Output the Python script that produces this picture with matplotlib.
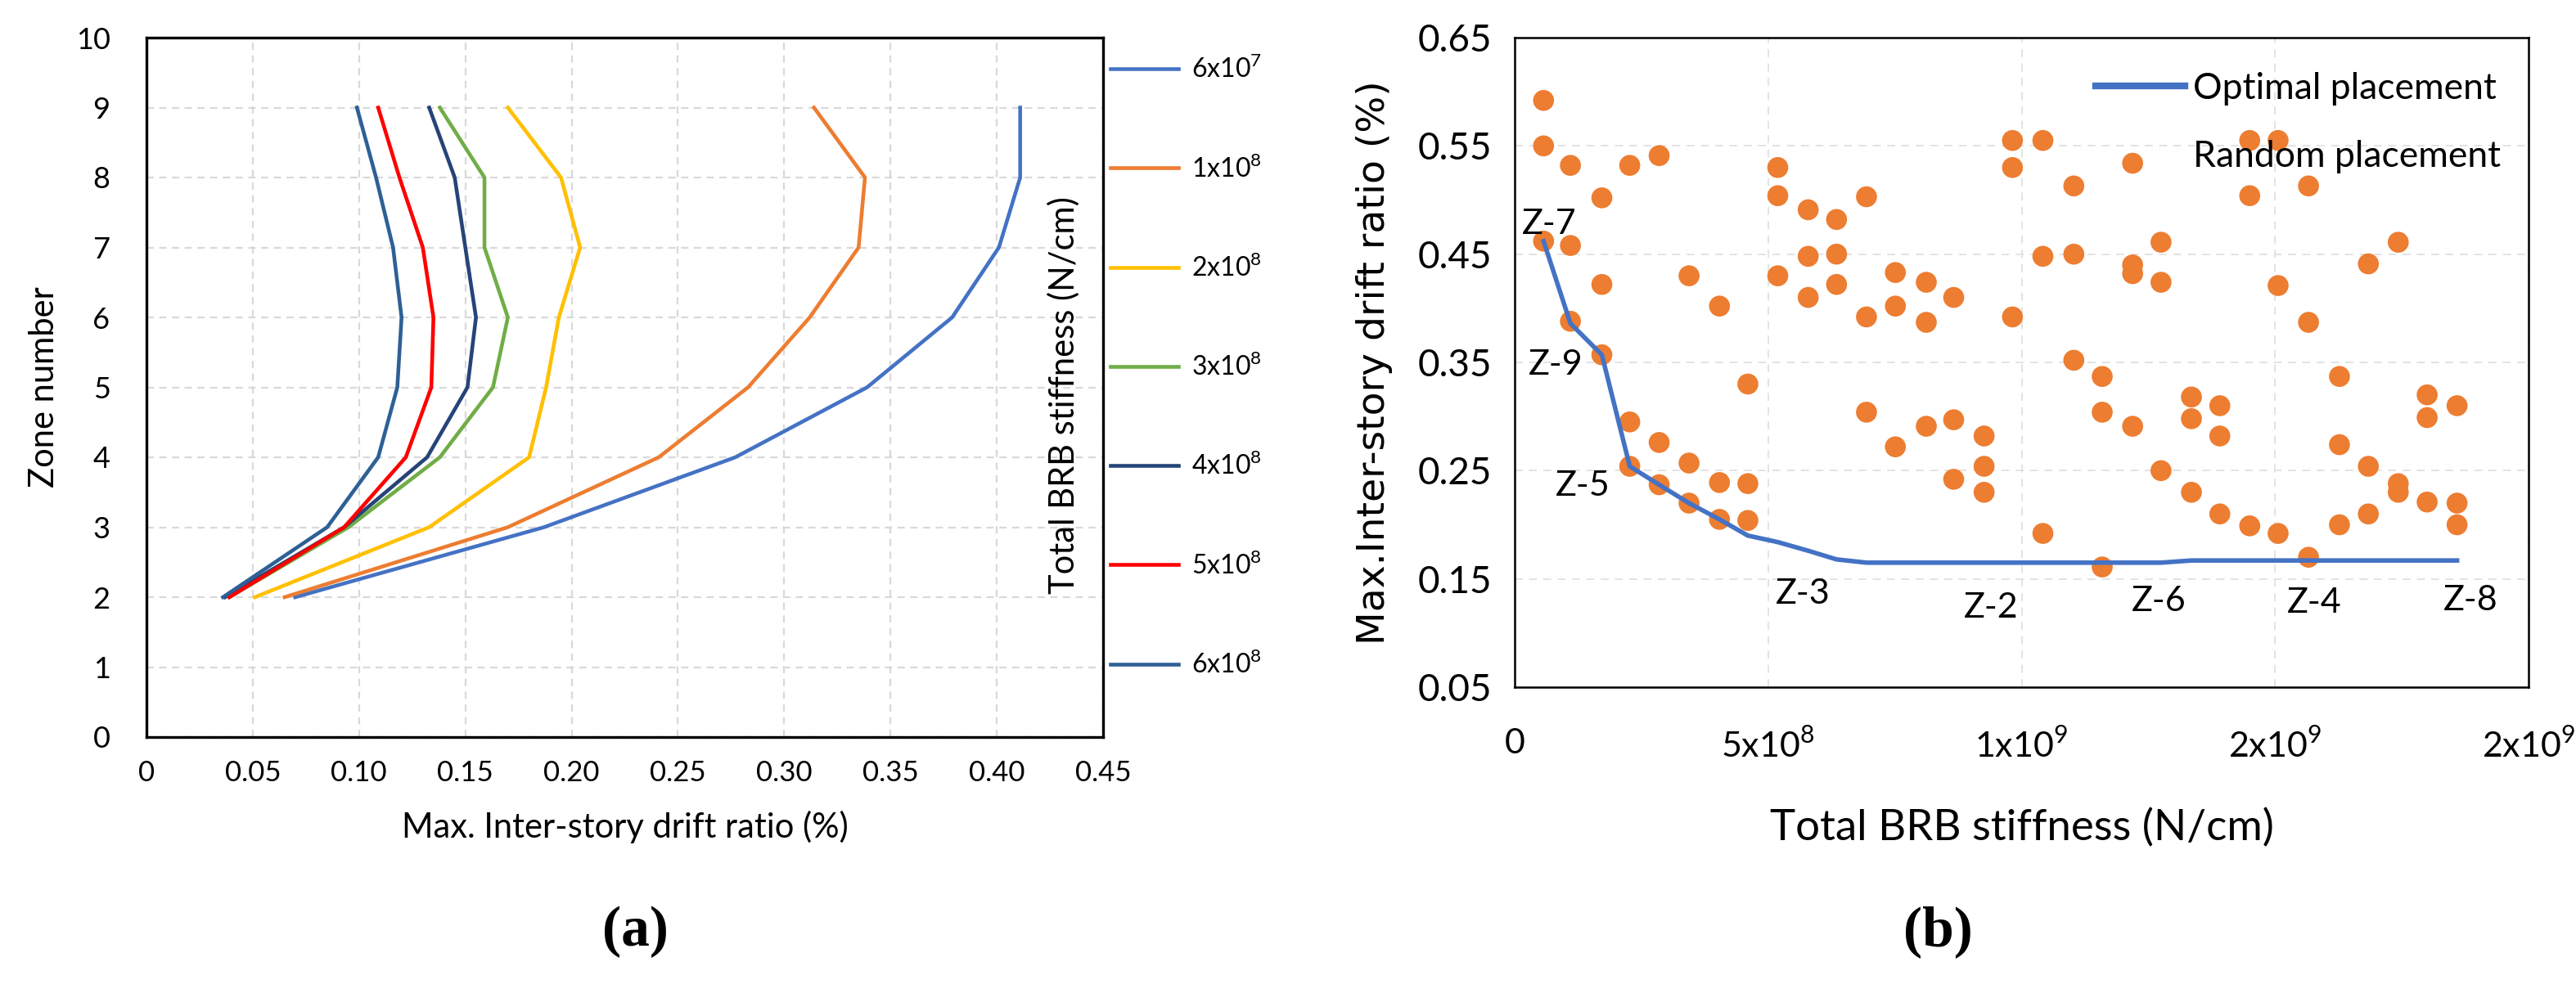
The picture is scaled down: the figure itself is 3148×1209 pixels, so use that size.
import numpy as np
import matplotlib
matplotlib.use("Agg")
import matplotlib.pyplot as plt
from matplotlib.lines import Line2D

plt.rcParams['font.family'] = ['Lato', 'DejaVu Sans']
plt.rcParams['mathtext.fontset'] = 'custom'
plt.rcParams['mathtext.rm'] = 'Lato'

# ---- (a) drift profiles per total BRB stiffness ----
zones = [2, 3, 4, 5, 6, 7, 8, 9]
stiff_labels = ['6x10$^\\mathregular{7}$', '1x10$^\\mathregular{8}$', '2x10$^\\mathregular{8}$',
                '3x10$^\\mathregular{8}$', '4x10$^\\mathregular{8}$', '5x10$^\\mathregular{8}$',
                '6x10$^\\mathregular{8}$']
drift_6e7 = [0.070, 0.187, 0.277, 0.339, 0.379, 0.401, 0.411, 0.411]
drift_1e8 = [0.065, 0.170, 0.241, 0.283, 0.312, 0.335, 0.338, 0.314]
drift_2e8 = [0.051, 0.133, 0.180, 0.188, 0.194, 0.204, 0.195, 0.170]
drift_3e8 = [0.039, 0.095, 0.138, 0.163, 0.170, 0.159, 0.159, 0.138]
drift_4e8 = [0.037, 0.093, 0.132, 0.151, 0.155, 0.150, 0.145, 0.133]
drift_5e8 = [0.039, 0.093, 0.122, 0.134, 0.135, 0.130, 0.119, 0.109]
drift_6e8 = [0.036, 0.085, 0.109, 0.118, 0.120, 0.116, 0.108, 0.099]
line_colors = ['#4472C4', '#ED7D31', '#FFC000', '#70AD47', '#264478', '#FF0000', '#2E6095']

# ---- (b) random vs optimal placement ----
col_x = [0.57e8, 1.10e8, 1.72e8, 2.27e8, 2.85e8, 3.44e8, 4.04e8, 4.60e8,
         5.19e8, 5.79e8, 6.35e8, 6.94e8, 7.51e8, 8.12e8, 8.66e8, 9.26e8,
         9.82e8, 1.042e9, 1.103e9, 1.159e9, 1.219e9, 1.275e9, 1.335e9, 1.391e9,
         1.450e9, 1.506e9, 1.566e9, 1.627e9, 1.684e9, 1.743e9, 1.800e9, 1.859e9]
rand_y = [
    [0.592, 0.550, 0.462],
    [0.532, 0.458, 0.388],
    [0.502, 0.422, 0.357],
    [0.532, 0.295, 0.254],
    [0.541, 0.276, 0.237],
    [0.430, 0.257, 0.220],
    [0.402, 0.239, 0.205],
    [0.330, 0.238, 0.204],
    [0.530, 0.504, 0.430],
    [0.491, 0.448, 0.410],
    [0.482, 0.450, 0.422],
    [0.503, 0.392, 0.304],
    [0.433, 0.402, 0.272],
    [0.424, 0.387, 0.291],
    [0.410, 0.297, 0.242],
    [0.282, 0.254, 0.230],
    [0.555, 0.530, 0.392],
    [0.555, 0.448, 0.192],
    [0.513, 0.450, 0.352],
    [0.337, 0.304, 0.161],
    [0.534, 0.440, 0.432, 0.291],
    [0.461, 0.424, 0.250],
    [0.318, 0.298, 0.230],
    [0.310, 0.282, 0.210],
    [0.555, 0.504, 0.199],
    [0.555, 0.421, 0.192],
    [0.513, 0.387, 0.170],
    [0.337, 0.274, 0.200],
    [0.441, 0.254, 0.210],
    [0.461, 0.238, 0.230],
    [0.320, 0.299, 0.221],
    [0.310, 0.220, 0.200],
]
optimal_y = [0.462, 0.386, 0.357, 0.254, 0.237, 0.220, 0.205, 0.190,
             0.184, 0.176, 0.168, 0.165, 0.165, 0.165, 0.165, 0.165,
             0.165, 0.165, 0.165, 0.165, 0.165, 0.165, 0.167, 0.167,
             0.167, 0.167, 0.167, 0.167, 0.167, 0.167, 0.167, 0.167]
zone_tags = ['Z-7', 'Z-9', 'Z-5', 'Z-3', 'Z-2', 'Z-6', 'Z-4', 'Z-8']
tag_x = [0.68e8, 0.81e8, 1.34e8, 5.69e8, 9.40e8, 1.271e9, 1.577e9, 1.885e9]
tag_y = [0.478, 0.348, 0.236, 0.136, 0.123, 0.129, 0.128, 0.130]
xb_ticks = [0, 5e8, 1e9, 1.5e9, 2e9]
xb_labels = ['0', '5x10$^\\mathregular{8}$', '1x10$^\\mathregular{9}$',
             '2x10$^\\mathregular{9}$', '2x10$^\\mathregular{9}$']

W, H = 3148, 1209
fig = plt.figure(figsize=(W / 100, H / 100), dpi=100)

# ---------- panel (a) ----------
ax1 = fig.add_axes([179 / W, 1 - 901 / H, (1348 - 179) / W, (901 - 46) / H])
series = [drift_6e7, drift_1e8, drift_2e8, drift_3e8, drift_4e8, drift_5e8, drift_6e8]
handles = []
for vals, c, lab in zip(series, line_colors, stiff_labels):
    h, = ax1.plot(vals, zones, color=c, lw=3.3, label=lab)
    handles.append(h)
ax1.set_xlim(0, 0.45)
ax1.set_ylim(0, 10)
ax1.set_xticks(np.arange(0, 0.451, 0.05))
ax1.set_xticklabels(['0', '0.05', '0.10', '0.15', '0.20', '0.25', '0.30', '0.35', '0.40', '0.45'])
ax1.set_yticks(range(0, 11))
ax1.grid(True, color='#D9D9D9', ls=(0, (4, 3)), lw=1.6)
ax1.set_axisbelow(True)
ax1.tick_params(axis='x', length=0, pad=20, labelsize=25)
ax1.tick_params(axis='y', length=0, pad=32, labelsize=26)
for s in ax1.spines.values():
    s.set_linewidth(2.4)
ax1.set_xlabel('Max. Inter-story drift ratio (%)', fontsize=30, labelpad=22)
ax1.set_ylabel('Zone number', fontsize=30, labelpad=14)

ax1.legend(handles=handles, loc='upper left', bbox_to_anchor=(1357 / W, 1 - 68 / H),
           bbox_transform=fig.transFigure, frameon=False, fontsize=23,
           handlelength=2.6, handletextpad=0.5, labelspacing=2.75,
           borderpad=0, borderaxespad=0)
fig.text(1300 / W, 1 - 483 / H, 'Total BRB stiffness (N/cm)', rotation=90,
         ha='center', va='center', fontsize=30)

# ---------- panel (b) ----------
ax2 = fig.add_axes([1851 / W, 1 - 840 / H, (3090 - 1851) / W, (840 - 46) / H])
for x, ys in zip(col_x, rand_y):
    ax2.scatter([x] * len(ys), ys, s=340, color='#ED7D31', edgecolors='none', zorder=3)
ax2.plot(col_x, optimal_y, color='#4472C4', lw=4, zorder=4)
for t, x, y in zip(zone_tags, tag_x, tag_y):
    ax2.text(x, y, t, ha='center', va='center', fontsize=31, zorder=5)
ax2.set_xlim(0, 2e9)
ax2.set_ylim(0.05, 0.65)
ax2.set_xticks(xb_ticks)
ax2.set_xticklabels(xb_labels)
ax2.set_yticks(np.arange(0.05, 0.651, 0.1))
ax2.set_yticklabels(['0.05', '0.15', '0.25', '0.35', '0.45', '0.55', '0.65'])
ax2.grid(True, color='#E3E3E3', ls=(0, (5, 4)), lw=1.4)
ax2.set_axisbelow(True)
ax2.tick_params(axis='x', length=0, pad=36, labelsize=31)
ax2.tick_params(axis='y', length=0, pad=20, labelsize=33)
for s in ax2.spines.values():
    s.set_linewidth(1.8)
ax2.set_xlabel('Total BRB stiffness (N/cm)', fontsize=38, labelpad=40)
ax2.set_ylabel('Max.Inter-story drift ratio (%)', fontsize=34, labelpad=22,
               family=['DejaVu Sans'])

leg_h = [Line2D([], [], color='#4472C4', lw=6),
         Line2D([], [], ls='none', marker=None)]
ax2.legend(leg_h, ['Optimal placement', 'Random placement'], loc='upper left',
           bbox_to_anchor=(2561 / W, 1 - 88 / H), bbox_transform=fig.transFigure,
           frameon=False, fontsize=32, handlelength=2.45, handletextpad=0.22,
           labelspacing=0.95, borderpad=0, borderaxespad=0)

# panel tags
fig.text(776 / W, 1 - 1139 / H, '(a)', ha='center', va='center', fontsize=50,
         family=['Liberation Serif'], fontweight='bold')
fig.text(2368 / W, 1 - 1139 / H, '(b)', ha='center', va='center', fontsize=50,
         family=['Liberation Serif'], fontweight='bold')

fig.savefig('out.png', dpi=100, facecolor='white')
